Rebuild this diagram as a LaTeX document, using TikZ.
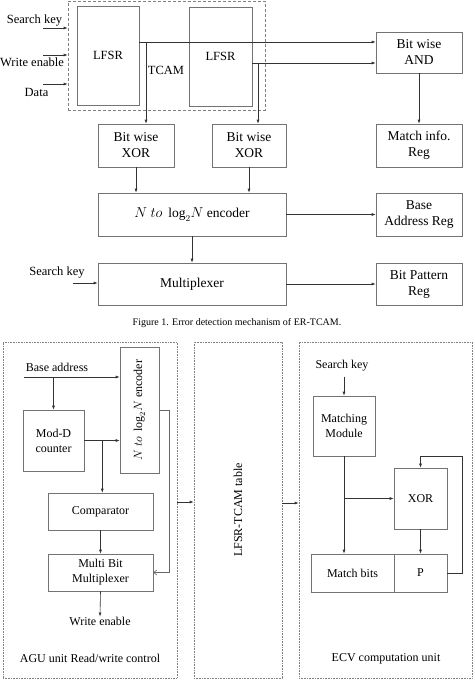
\documentclass[tikz,border=0pt]{standalone}
\usepackage{fontspec}
\setmainfont{Liberation Serif}
\usetikzlibrary{arrows.meta,positioning}
\tikzset{
  blk/.style={draw=black!55,line width=0.6pt,align=center,inner sep=0pt,
    font=\fontsize{13.5}{16}\selectfont},
  blks/.style={blk,font=\fontsize{12}{15}\selectfont},
  dotbox/.style={draw=black!50,line width=0.6pt,densely dotted},
  lbl/.style={inner sep=0pt,font=\fontsize{12.5}{15}\selectfont},
  arr/.style={draw=black!80,line width=0.6pt,-{Latex[length=4pt,width=3pt]}},
  barb/.style={draw=black!60,line width=0.6pt,-{Straight Barb[length=3pt,width=5pt]}}
}
\begin{document}
\begin{tikzpicture}[x=1pt,y=-1pt]
  \useasboundingbox (0,0) rectangle (474,680);
  % error detection part
  \node[dotbox,densely dashed,minimum width=197pt,minimum height=109pt] (tcam) at (166.5,55.5) {};
  \node[lbl] (tcamtxt) at (166,70) {TCAM};
  \node[blk,font=\fontsize{12.5}{15}\selectfont,minimum width=62pt,minimum height=99pt] (lfsrA) at (108,55.5) {LFSR};
  \node[blk,font=\fontsize{12.5}{15}\selectfont,minimum width=63pt,minimum height=99pt] (lfsrB) at (220.5,56.5) {LFSR};
  \node[blk,minimum width=86pt,minimum height=41pt] (andb) at (419,52.5) {Bit wise\\AND};
  \node[blk,minimum width=76pt,minimum height=43pt] (xorA) at (136,145.5) {Bit wise\\XOR};
  \node[blk,minimum width=74pt,minimum height=43pt] (xorB) at (249,145.5) {Bit wise\\XOR};
  \node[blk,minimum width=86pt,minimum height=43pt] (minfo) at (419,145.5) {Match info.\\Reg};
  \node[blk,minimum width=188pt,minimum height=43pt] (enc) at (192,214.5) {$N\ to\ \log_2\!N$ encoder};
  \node[blk,minimum width=86pt,minimum height=43pt] (basereg) at (419,214.5) {Base\\Address Reg};
  \node[blk,minimum width=188pt,minimum height=42pt] (mux) at (192,284) {Multiplexer};
  \node[blk,minimum width=86pt,minimum height=42pt] (bpreg) at (419,284) {Bit Pattern\\Reg};

  \node[lbl] (sktxt) at (34.5,21) {Search key};
  \node[lbl] (wetxt) at (32,62) {Write enable};
  \node[lbl] (datatxt) at (36.5,92) {Data};
  \coordinate (skin) at (43,28);
  \coordinate (wein) at (43,55);
  \coordinate (datain) at (43,84);
  \foreach \p in {skin,wein,datain}
    \draw[arr] (\p) -- (tcam.west |- \p);

  \draw[arr] (lfsrA.east |- 0,42) -- (andb.west |- 0,42);
  \draw[arr] ([xshift=10pt]xorA.north |- 0,42) -- ([xshift=10pt]xorA.north);
  \draw[arr] (lfsrB.east |- 0,63) -- (andb.west |- 0,63);
  \draw[arr] ([xshift=9pt]xorB.north |- 0,63) -- ([xshift=9pt]xorB.north);
  \draw[arr] (andb.south) -- (minfo.north);
  \draw[arr] (xorA.south) -- (xorA.south |- enc.north);
  \draw[arr] (xorB.south) -- (xorB.south |- enc.north);
  \draw[arr] (enc.east) -- (basereg.west);
  \draw[arr] (enc.south) -- (mux.north);
  \draw[arr] (mux.east) -- (bpreg.west);
  \node[lbl] (sktxtB) at (57,273) {Search key};
  \coordinate (skinB) at (73,283);
  \draw[arr] (skinB) -- (mux.west |- skinB);

  \node[font=\fontsize{10}{12}\selectfont] (cap) at (237,323) {Figure 1. Error detection mechanism of ER-TCAM.};

  % address generation, table and ECV units
  \node[dotbox,minimum width=174pt,minimum height=336pt] (agu) at (90,510) {};
  \node[dotbox,minimum width=88pt,minimum height=336pt,font=\fontsize{12}{15}\selectfont] (tbl) at (238,510) {\rotatebox{90}{LFSR-TCAM table}};
  \node[dotbox,minimum width=173pt,minimum height=336pt] (ecv) at (385.5,510) {};

  \node[lbl,font=\fontsize{12}{15}\selectfont] (batxt) at (57,367) {Base address};
  \coordinate (bain) at (24,377);
  \node[blks,minimum width=39pt,minimum height=126pt] (encR) at (139.5,410) {\rotatebox{90}{$N\ to\ \log_2\!N$ encoder}};
  \node[blks,minimum width=61pt,minimum height=61pt] (modd) at (53.5,440.5) {Mod-D\\counter};
  \node[blks,minimum width=105pt,minimum height=37pt] (comp) at (100.5,511.5) {Comparator};
  \node[blks,minimum width=105pt,minimum height=37pt] (mbm) at (100.5,572.5) {Multi Bit\\Multiplexer};
  \node[lbl,font=\fontsize{12}{15}\selectfont] (wetxtB) at (100,621) {Write enable};
  \node[lbl,font=\fontsize{12}{15}\selectfont] (agutxt) at (90,658) {AGU unit Read/write control};

  \draw[arr] (bain) -- (encR.west |- bain);
  \draw[arr] (modd.north |- bain) -- (modd.north);
  \draw[arr] (modd.east) -- (modd.east -| encR.west);
  \draw[arr] ([xshift=18pt]modd.east) -- ([xshift=18pt]modd.east |- comp.north);
  \draw[arr] (comp.south) -- (mbm.north);
  \draw[barb] (encR.east) -- ++(10,0) |- (mbm.east);
  \draw[arr] (mbm.south) -- (wetxtB.north);
  \draw[arr] (agu.east |- 0,502) -- (tbl.west |- 0,502);
  \draw[arr] (tbl.east |- 0,503) -- (ecv.west |- 0,503);

  \node[lbl,font=\fontsize{12}{15}\selectfont] (sktxtC) at (342,366) {Search key};
  \node[blks,minimum width=62pt,minimum height=60pt] (match) at (344,426) {Matching\\Module};
  \node[blks,minimum width=53pt,minimum height=61pt] (xorC) at (420.5,498.5) {XOR};
  \node[blks,minimum width=83pt,minimum height=38pt] (mbits) at (352.5,573) {Match bits};
  \node[blks,minimum width=53pt,minimum height=38pt] (pcell) at (420.5,573) {P};
  \node[lbl,font=\fontsize{12}{15}\selectfont] (ecvtxt) at (386,659) {ECV computation unit};

  \draw[arr] ([yshift=-5pt]sktxtC.south -| match.north) -- (match.north);
  \draw[arr] (match.south) -- (match.south |- mbits.north);
  \draw[arr] (match.south |- xorC.west) -- (xorC.west);
  \draw[arr] (xorC.south) -- (pcell.north);
  \draw[arr] (pcell.east) -- ++(15,0) |- ([yshift=11pt]xorC.north) -- (xorC.north);
\end{tikzpicture}
\end{document}
